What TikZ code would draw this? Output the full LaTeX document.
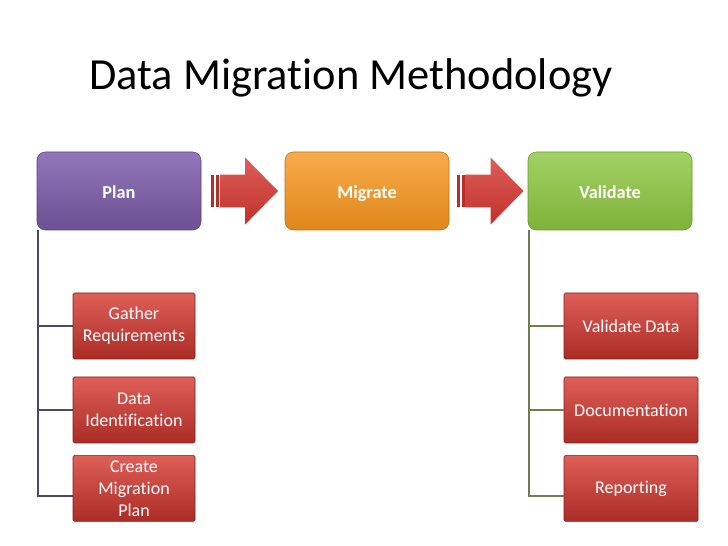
\documentclass[tikz,border=0pt]{standalone}
\usepackage{fontspec}
\setmainfont{Carlito}[Ligatures={NoCommon}]
\usetikzlibrary{calc,positioning}
\definecolor{planpurple}{HTML}{7E5FAE}
\definecolor{migorange}{HTML}{F7961E}
\definecolor{valgreen}{HTML}{8CC63E}
\definecolor{taskred}{HTML}{D6362F}
\definecolor{planline}{HTML}{4E4866}
\definecolor{valline}{HTML}{6E7E4E}

\begin{document}
\begin{tikzpicture}[
  phasebox/.style={rectangle, rounded corners=6pt, minimum width=4.1cm, minimum height=1.95cm,
    text height=2.4ex, text depth=0.3ex,
    text=white, font=\fontsize{13}{15}\selectfont\bfseries},
  taskbox/.style={rectangle, rounded corners=1pt, minimum height=1.65cm, align=center, text=white,
    top color=taskred!80!white, bottom color=taskred!80!black, draw=taskred!60!black, line width=0.4pt,
    font=\fontsize{12.8}{15.6}\selectfont},
  spine/.style={line width=1.4pt},
]
\useasboundingbox (0,0) rectangle (18.2,13.65);

% Title
\node[font=\fontsize{31.6}{38}\selectfont, anchor=base] (title) at (8.775, 11.4) {Data Migration Methodology};

% Phases — top row
\node[phasebox, top color=planpurple!85!white, bottom color=planpurple!85!black, draw=planpurple!70!black] (plan) at (2.975, 8.875) {Plan};
\node[phasebox, top color=migorange!80!white, bottom color=migorange!90!black, draw=migorange!75!black] (migrate) at (9.175, 8.875) {Migrate};
\node[phasebox, top color=valgreen!80!white, bottom color=valgreen!90!black, draw=valgreen!75!black] (validate) at (15.25, 8.875) {Validate};

% Block arrows between phases
\foreach \a/\b in {plan/migrate, migrate/validate}{
  \path ($(\a.east)!0.5!(\b.west)$) coordinate (mid);
  \begin{scope}[shift={(mid)}]
    \fill[taskred!85!black] (-0.8,-0.41) rectangle (-0.725,0.41);
    \fill[taskred!85!black] (-0.675,-0.41) rectangle (-0.6,0.41);
    \shade[top color=taskred!80!white, bottom color=taskred!90!black]
      (-0.575,-0.41) -- (0.05,-0.41) -- (0.05,-0.84) -- (0.875,0) -- (0.05,0.84) -- (0.05,0.41) -- (-0.575,0.41) -- cycle;
  \end{scope}
}

% Plan tasks — left column
\node[taskbox, minimum width=3.05cm] (p1) at (3.35, 5.5) {Gather\\Requirements};
\node[taskbox, minimum width=3.05cm] (p2) at (3.35, 3.4) {Data\\Identification};
\node[taskbox, minimum width=3.05cm] (p3) at (3.35, 1.44) {Create\\Migration\\Plan};

% Validate tasks — right column
\node[taskbox, minimum width=3.35cm] (v1) at (15.775, 5.5) {Validate Data};
\node[taskbox, minimum width=3.35cm] (v2) at (15.775, 3.4) {Documentation};
\node[taskbox, minimum width=3.35cm] (v3) at (15.775, 1.44) {Reporting};

% Spines
\draw[spine, planline] ([xshift=0.6pt]plan.south west) |- (p1.west);
\draw[spine, planline] ([xshift=0.6pt]plan.south west) |- (p2.west);
\draw[spine, planline] ([xshift=0.6pt]plan.south west) |- ([yshift=-0.2cm]p3.west);
\draw[spine, valline] ([xshift=0.6pt]validate.south west) |- (v1.west);
\draw[spine, valline] ([xshift=0.6pt]validate.south west) |- (v2.west);
\draw[spine, valline] ([xshift=0.6pt]validate.south west) |- ([yshift=-0.2cm]v3.west);

\end{tikzpicture}
\end{document}
